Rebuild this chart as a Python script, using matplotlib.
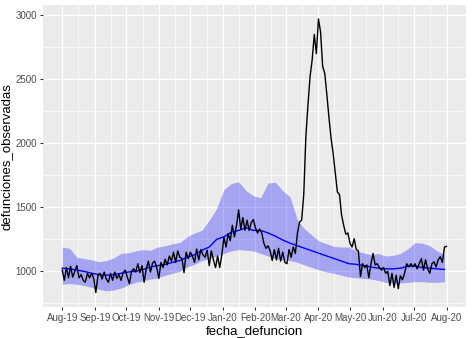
import matplotlib
matplotlib.use("Agg")
import matplotlib.pyplot as plt
from matplotlib.ticker import MultipleLocator
import pandas as pd

# observed deaths (every 2 days starting 2019-08-01)
obs_start = "2019-08-01"
observed = [
    1010, 930, 1030, 950, 1040, 955, 1000, 1045, 950, 975,
    930, 915, 985, 950, 985, 945, 835, 965, 985, 940,
    995, 940, 915, 985, 930, 995, 945, 975, 930, 990,
    1010, 955, 905, 1000, 1020, 995, 1060, 990, 1045, 915,
    1020, 1080, 995, 1065, 1080, 1030, 945, 1070, 1030, 1095,
    1050, 1120, 1080, 1150, 1070, 1160, 1110, 1100, 990, 1150,
    1100, 1150, 1120, 1070, 1175, 1090, 1170, 1130, 1110, 1165,
    1045, 1160, 1090, 1030, 1120, 1030, 1130, 1265, 1190, 1295,
    1240, 1360, 1270, 1360, 1480, 1330, 1420, 1320, 1400, 1320,
    1380, 1405, 1340, 1300, 1330, 1300, 1220, 1180, 1200, 1160,
    1085, 1170, 1090, 1180, 1080, 1150, 1070, 1060, 1170, 1110,
    1190, 1140, 1300, 1385, 1400, 1600, 2050, 2300, 2520, 2650,
    2850, 2700, 2970, 2870, 2600, 2545, 2380, 2200, 2040, 1920,
    1770, 1620, 1600, 1440, 1360, 1290, 1300, 1220, 1190, 1255,
    1170, 1160, 960, 1060, 1030, 1050, 950, 1060, 1140, 1050,
    1060, 1030, 1010, 1030, 985, 1000, 890, 985, 875, 970,
    865, 965, 935, 985, 1060, 1035, 1060, 1035, 1060, 1020,
    1060, 1100, 1010, 1090, 1020, 985, 1060, 1075, 1035, 1090,
    1115, 1070, 1190, 1195,
]

# expected deaths and interval (weekly starting 2019-08-01)
exp_start = "2019-08-01"
expected = [
    1025, 1020, 1010, 1000, 985, 975, 970, 975, 985, 995,
    1000, 1015, 1035, 1045, 1055, 1070, 1085, 1110, 1130, 1165,
    1190, 1250, 1270, 1305, 1320, 1340, 1320, 1320, 1300, 1275,
    1245, 1220, 1200, 1180, 1160, 1140, 1120, 1100, 1080, 1060,
    1055, 1045, 1035, 1025, 1020, 1020, 1025, 1040, 1040, 1030,
    1025, 1020, 1015,
]
upper = [
    1190, 1180, 1110, 1100, 1090, 1075, 1085, 1105, 1140, 1145,
    1160, 1170, 1165, 1190, 1200, 1215, 1225, 1270, 1300, 1320,
    1400, 1490, 1640, 1685, 1700, 1630, 1590, 1575, 1690, 1695,
    1630, 1580, 1400, 1330, 1280, 1235, 1215, 1195, 1190, 1190,
    1160, 1145, 1130, 1140, 1120, 1125, 1140, 1175, 1225, 1220,
    1200, 1160, 1130,
]
lower = [
    900, 905, 900, 890, 875, 860, 848, 855, 870, 895,
    915, 925, 940, 950, 970, 985, 1000, 1035, 1055, 1085,
    1100, 1120, 1140, 1160, 1170, 1165, 1160, 1140, 1120, 1100,
    1090, 1085, 1070, 1050, 1030, 1010, 995, 985, 970, 955,
    950, 945, 940, 930, 915, 910, 910, 915, 920, 920,
    915, 915, 920,
]

x_ticks = pd.date_range("2019-08-01", "2020-08-01", freq="MS")
y_ticks = [1000, 1500, 2000, 2500, 3000]

obs_dates = pd.date_range(obs_start, periods=len(observed), freq="2D")
exp_dates = pd.date_range(exp_start, periods=len(expected), freq="7D")

fig = plt.figure(figsize=(4.74, 3.38), dpi=100)
ax = fig.add_axes([0.0907, 0.0917, 0.892, 0.893])
ax.set_facecolor("#EBEBEB")
for s in ax.spines.values():
    s.set_visible(False)

ax.fill_between(exp_dates, lower, upper, color="blue", alpha=0.3, linewidth=0, zorder=2)
ax.plot(exp_dates, expected, color="blue", linewidth=1.0, zorder=3)
ax.plot(obs_dates, observed, color="black", linewidth=1.0, zorder=4)

x0 = pd.Timestamp("2019-08-01")
x1 = pd.Timestamp("2020-08-01")
pad = (x1 - x0) * 0.05
ax.set_xlim(x0 - pad, x1 + pad)
ax.set_ylim(722, 3078)

ax.set_xticks(x_ticks)
ax.set_xticklabels([d.strftime("%b-%y") for d in x_ticks])
mids = [x_ticks[i] + (x_ticks[i + 1] - x_ticks[i]) / 2 for i in range(len(x_ticks) - 1)]
ax.set_xticks(mids, minor=True)
ax.set_yticks(y_ticks)
ax.set_yticks([750, 1250, 1750, 2250, 2750], minor=True)

ax.grid(which="major", color="white", linewidth=1.0, zorder=0)
ax.grid(which="minor", color="white", linewidth=0.5, zorder=0)
ax.set_axisbelow(True)

ax.tick_params(axis="both", which="major", length=2.5, width=0.8, color="#333333",
               labelsize=7, labelcolor="#4D4D4D", pad=2)
ax.tick_params(axis="both", which="minor", length=0)
for lab in ax.get_xticklabels() + ax.get_yticklabels():
    lab.set_fontfamily("Liberation Sans")

ax.set_xlabel("fecha_defuncion", fontsize=9.5, family="Liberation Sans", labelpad=1)
ax.set_ylabel("defunciones_observadas", fontsize=9.5, family="Liberation Sans", labelpad=2)

fig.savefig("out.png", dpi=100)
